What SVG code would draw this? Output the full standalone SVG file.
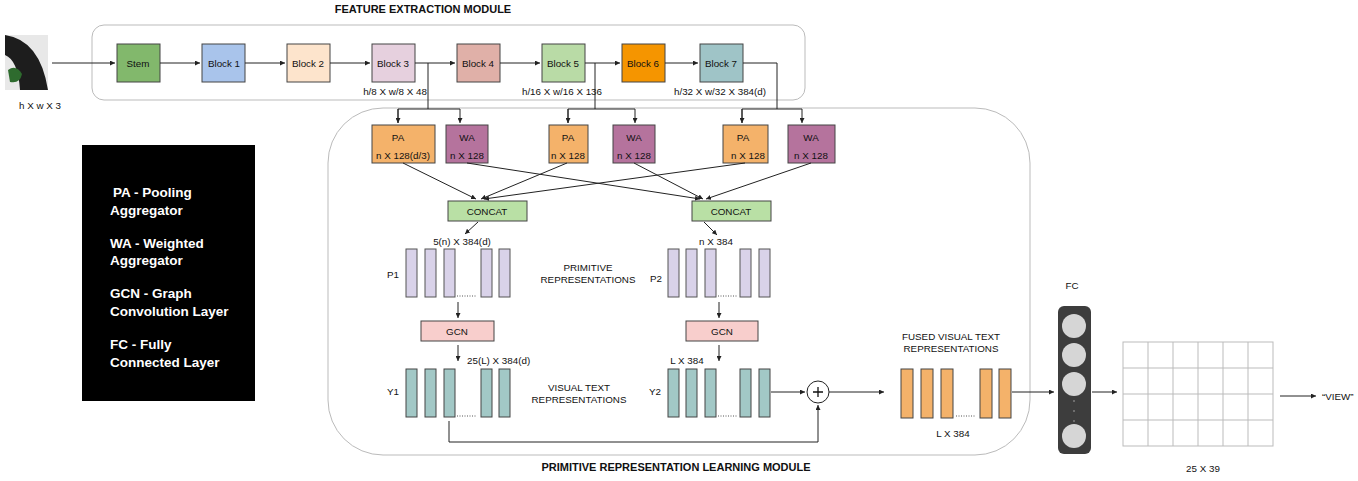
<svg xmlns="http://www.w3.org/2000/svg" width="1358" height="481" viewBox="0 0 1358 481">
<style>
text{font-family:"Liberation Sans",Arial,sans-serif;fill:#111;font-size:9.8px}
.c{text-anchor:middle}
.t{font-size:11px;font-weight:bold}
.b{stroke:#444;stroke-width:1}
.l{fill:none;stroke:#222;stroke-width:1}
.lg{fill:#fff;font-size:13.5px;font-weight:bold}
.pb{fill:#d9d2e9;stroke:#555}
.yb{fill:#a2c8c6;stroke:#444}
.fb{fill:#f4b26a;stroke:#444}
.dot{stroke:#555;stroke-dasharray:1 1.5;fill:none}
</style>
<defs><marker id="a" viewBox="0 0 6 6" refX="6" refY="3" markerWidth="5" markerHeight="5" orient="auto"><path d="M0,0L6,3L0,6z" fill="#222"/></marker></defs>
<rect width="1358" height="481" fill="#fff"/>
<text class="c t" x="423" y="13">FEATURE EXTRACTION MODULE</text>
<text class="c t" x="676" y="471">PRIMITIVE REPRESENTATION LEARNING MODULE</text>
<rect x="92" y="25" width="713" height="75" rx="12" fill="none" stroke="#bbb"/>
<rect x="328" y="108" width="702" height="347" rx="55" fill="none" stroke="#bbb"/>
<g id="input"><rect x="5" y="35" width="43" height="55" fill="#e8e8e8"/><path d="M5,35Q40,40 48,90L20,90Q18,60 5,55z" fill="#1d1d1d"/><path d="M8,70q8,-6 14,4q-2,10 -12,8z" fill="#2e6b2e"/><text class="c" x="40" y="109">h X w X 3</text></g>
<g id="blocks">
<rect id="stem" class="b" x="117" y="44" width="43" height="38" fill="#82b86c"/><text class="c" x="138" y="67">Stem</text>
<rect class="b" x="202" y="44" width="43" height="38" fill="#a9c4eb"/><text class="c" x="224" y="67">Block 1</text>
<rect class="b" x="287" y="44" width="43" height="38" fill="#fde4cc"/><text class="c" x="308" y="67">Block 2</text>
<rect class="b" x="372" y="44" width="43" height="38" fill="#e6d0de"/><text class="c" x="393" y="67">Block 3</text>
<rect class="b" x="457" y="44" width="43" height="38" fill="#e0b0a8"/><text class="c" x="478" y="67">Block 4</text>
<rect class="b" x="542" y="44" width="43" height="38" fill="#b9dba6"/><text class="c" x="563" y="67">Block 5</text>
<rect class="b" x="622" y="44" width="43" height="38" fill="#f59500"/><text class="c" x="643" y="67">Block 6</text>
<rect class="b" x="700" y="44" width="43" height="38" fill="#9fc4c7"/><text class="c" x="721" y="67">Block 7</text>
<text class="c" x="395" y="95">h/8 X w/8 X 48</text>
<text class="c" x="562" y="95">h/16 X w/16 X 136</text>
<text class="c" x="720" y="95">h/32 X w/32 X 384(d)</text>
</g>
<g id="aggs">
<rect class="b" x="372" y="125" width="63" height="38" fill="#f4b26a"/><text class="c" x="398" y="141">PA</text><text class="c" x="403" y="159">n X 128(d/3)</text>
<rect class="b" x="446" y="125" width="42" height="38" fill="#b5739d"/><text class="c" x="467" y="141">WA</text><text class="c" x="467" y="159">n X 128</text>
<rect class="b" x="549" y="125" width="39" height="38" fill="#f4b26a"/><text class="c" x="568" y="141">PA</text><text class="c" x="568" y="159">n X 128</text>
<rect class="b" x="613" y="125" width="42" height="38" fill="#b5739d"/><text class="c" x="634" y="141">WA</text><text class="c" x="634" y="159">n X 128</text>
<rect class="b" x="723" y="125" width="45" height="38" fill="#f4b26a"/><text class="c" x="743" y="141">PA</text><text class="c" x="748" y="159">n X 128</text>
<rect class="b" x="788" y="125" width="47" height="38" fill="#b5739d"/><text class="c" x="811" y="141">WA</text><text class="c" x="811" y="159">n X 128</text>
</g>
<g id="concat">
<rect class="b" x="448" y="201" width="79" height="20" fill="#b9e0a5"/><text class="c" x="487" y="215">CONCAT</text>
<rect class="b" x="692" y="201" width="79" height="20" fill="#b9e0a5"/><text class="c" x="731" y="215">CONCAT</text>
<text class="c" x="462" y="245">5(n) X 384(d)</text><text class="c" x="716" y="245">n X 384</text>
</g>
<g id="prims">
<rect class="pb" x="406" y="249" width="11" height="48"/><rect class="pb" x="425" y="249" width="11" height="48"/><rect class="pb" x="444" y="249" width="11" height="48"/><rect class="pb" x="481" y="249" width="11" height="48"/><rect class="pb" x="499" y="249" width="11" height="48"/>
<line class="dot" x1="457" y1="296" x2="476" y2="296"/>
<rect class="pb" x="668" y="249" width="11" height="48"/><rect class="pb" x="686" y="249" width="11" height="48"/><rect class="pb" x="705" y="249" width="11" height="48"/><rect class="pb" x="740" y="249" width="11" height="48"/><rect class="pb" x="759" y="249" width="11" height="48"/>
<line class="dot" x1="718" y1="296" x2="737" y2="296"/>
<text class="c" x="393" y="278">P1</text><text class="c" x="656" y="282">P2</text>
<text class="c" x="588" y="271">PRIMITIVE</text><text class="c" x="588" y="283">REPRESENTATIONS</text>
</g>
<g id="gcn">
<rect class="b" x="421" y="321" width="73" height="20" fill="#f8cecc"/><text class="c" x="457" y="335">GCN</text>
<rect class="b" x="686" y="321" width="72" height="20" fill="#f8cecc"/><text class="c" x="722" y="335">GCN</text>
<text x="467" y="364">25(L) X 384(d)</text><text class="c" x="687" y="364">L X 384</text>
</g>
<g id="visual">
<rect class="yb" x="406" y="369" width="11" height="48"/><rect class="yb" x="425" y="369" width="11" height="48"/><rect class="yb" x="444" y="369" width="11" height="48"/><rect class="yb" x="481" y="369" width="11" height="48"/><rect class="yb" x="499" y="369" width="11" height="48"/>
<line class="dot" x1="457" y1="416" x2="476" y2="416"/>
<rect class="yb" x="668" y="369" width="11" height="48"/><rect class="yb" x="686" y="369" width="11" height="48"/><rect class="yb" x="705" y="369" width="11" height="48"/><rect class="yb" x="740" y="369" width="11" height="48"/><rect class="yb" x="759" y="369" width="11" height="48"/>
<line class="dot" x1="718" y1="416" x2="737" y2="416"/>
<text class="c" x="393" y="395">Y1</text><text class="c" x="655" y="395">Y2</text>
<text class="c" x="579" y="391">VISUAL TEXT</text><text class="c" x="579" y="403">REPRESENTATIONS</text>
</g>
<g id="plus"><circle cx="818" cy="392" r="11" fill="#fff" stroke="#222"/><path d="M813,392h10M818,387v10" stroke="#111" stroke-width="1.3"/></g>
<g id="fused">
<rect class="fb" x="901" y="369" width="12" height="49"/><rect class="fb" x="921" y="369" width="12" height="49"/><rect class="fb" x="941" y="369" width="12" height="49"/><rect class="fb" x="980" y="369" width="12" height="49"/><rect class="fb" x="999" y="369" width="12" height="49"/>
<line class="dot" x1="956" y1="416" x2="976" y2="416"/>
<text class="c" x="951" y="340">FUSED VISUAL TEXT</text><text class="c" x="951" y="352">REPRESENTATIONS</text>
<text class="c" x="953" y="437">L X 384</text>
</g>
<g id="fc">
<text class="c" x="1072" y="289">FC</text>
<rect x="1058" y="306" width="33" height="148" rx="6" fill="#3d3d3d"/>
<circle cx="1074" cy="326" r="12" fill="#d6d6d6"/><circle cx="1074" cy="355" r="12" fill="#d6d6d6"/><circle cx="1074" cy="384" r="12" fill="#d6d6d6"/><circle cx="1074" cy="436" r="12" fill="#d6d6d6"/>
<circle cx="1074" cy="401" r="0.8" fill="#aaa"/><circle cx="1074" cy="411" r="0.8" fill="#aaa"/><circle cx="1074" cy="421" r="0.8" fill="#aaa"/>
</g>
<g id="grid" stroke="#bbb" fill="none">
<rect x="1123" y="342" width="150" height="104"/>
<path d="M1148,342v104M1173,342v104M1198,342v104M1223,342v104M1248,342v104M1123,368h150M1123,394h150M1123,420h150"/>
<text class="c" x="1203" y="472" stroke="none">25 X 39</text>
</g>
<g id="output"><text x="1322" y="400">“VIEW”</text></g>
<g id="legend"><rect x="82" y="145" width="173" height="256" fill="#000"/>
<text class="lg" x="113" y="197">PA - Pooling</text><text class="lg" x="110" y="215">Aggregator</text>
<text class="lg" x="110" y="248">WA - Weighted</text><text class="lg" x="110" y="265">Aggregator</text>
<text class="lg" x="110" y="298">GCN - Graph</text><text class="lg" x="110" y="316">Convolution Layer</text>
<text class="lg" x="110" y="349">FC - Fully</text><text class="lg" x="110" y="367">Connected Layer</text>
</g>
<g id="connectors" class="l">
<path d="M52,63H115" marker-end="url(#a)"/><path d="M160,63H200" marker-end="url(#a)"/><path d="M245,63H285" marker-end="url(#a)"/><path d="M330,63H370" marker-end="url(#a)"/><path d="M415,63H455" marker-end="url(#a)"/><path d="M500,63H540" marker-end="url(#a)"/><path d="M585,63H620" marker-end="url(#a)"/><path d="M665,63H698" marker-end="url(#a)"/>
<path d="M428,63V109"/><path d="M398,123V109H460V123" marker-end="url(#a)"/><path d="M398,109V123" marker-end="url(#a)"/>
<path d="M595,63V109"/><path d="M568,123V109H635V123" marker-end="url(#a)"/><path d="M568,109V123" marker-end="url(#a)"/>
<path d="M743,63H777V109"/><path d="M742,123V109H802V123" marker-end="url(#a)"/><path d="M742,109V123" marker-end="url(#a)"/>
<path d="M403,163L476,199" marker-end="url(#a)"/><path d="M567,163L481,199" marker-end="url(#a)"/><path d="M745,163L484,199" marker-end="url(#a)"/>
<path d="M467,163L700,199" marker-end="url(#a)"/><path d="M634,163L703,199" marker-end="url(#a)"/><path d="M811,163L706,199" marker-end="url(#a)"/>
<path d="M478,222L465,234" marker-end="url(#a)"/><path d="M704,222L717,235" marker-end="url(#a)"/>
<path d="M458,302V318" marker-end="url(#a)"/><path d="M719,302V318" marker-end="url(#a)"/>
<path d="M458,345V361" marker-end="url(#a)"/><path d="M719,345V361" marker-end="url(#a)"/>
<path d="M771,392H805" marker-end="url(#a)"/>
<path d="M449,421V442H818V405" marker-end="url(#a)"/>
<path d="M829,392H884" marker-end="url(#a)"/>
<path d="M1012,392H1054" marker-end="url(#a)"/>
<path d="M1092,392H1117" marker-end="url(#a)"/>
<path d="M1280,396H1316" marker-end="url(#a)"/>
</g>
</svg>
